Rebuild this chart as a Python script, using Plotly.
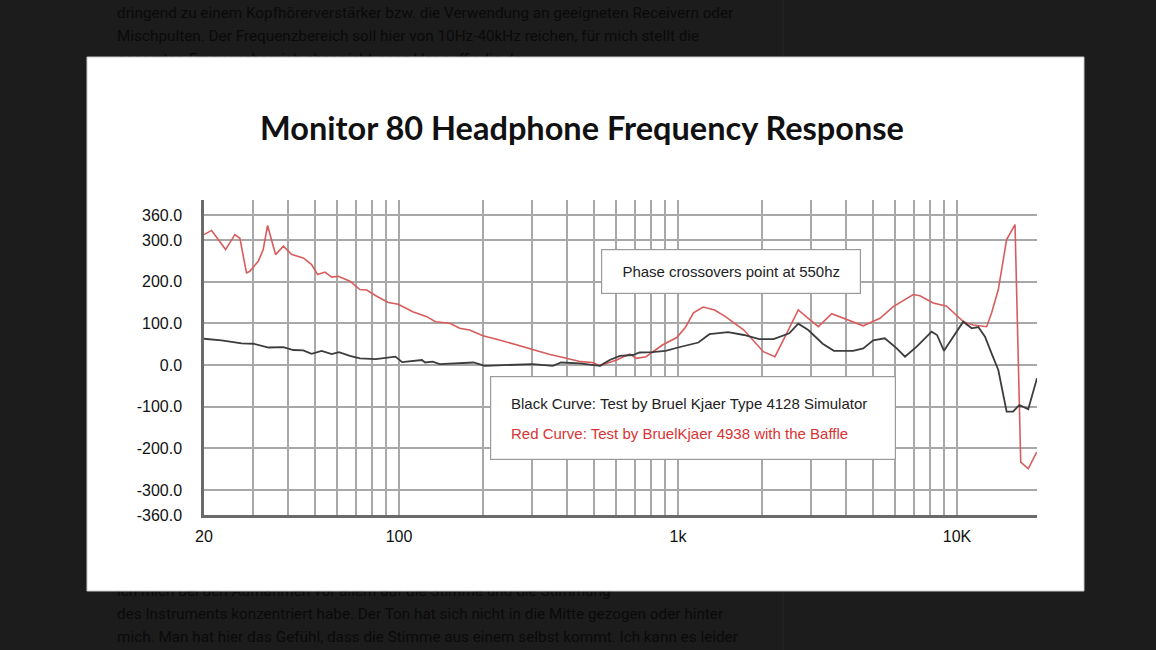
import math
import plotly.graph_objects as go

# ---------------- data ----------------
red_freq = [20, 21.3, 23.9, 25.8, 26.9, 28.4, 29.2, 31.3, 32.6, 33.8, 36.1, 38.5, 41.3, 45.4, 48.6,
            51.1, 54.3, 57.4, 60.6, 66.7, 72.4, 76.6, 83.2, 91.5, 99.4, 112, 125.8, 135, 152, 165,
            179, 200, 229, 263, 301, 345, 398, 449, 494, 525, 556, 603, 637, 672, 709, 768, 879,
            990, 1062, 1136, 1230, 1352, 1466, 1723, 2022, 2226, 2452, 2698, 2930, 3184, 3556,
            4024, 4614, 5296, 5910, 6970, 7360, 8220, 9180, 10530, 11430, 12770, 13300, 14060,
            15060, 16140, 16920, 18000, 19300]
red_phase = [313, 323, 277, 313, 304, 221, 225, 249, 277, 335, 265, 285, 265, 257, 241,
             217, 223, 211, 213, 201, 181, 180, 165, 150, 146, 128, 116, 104, 100, 88,
             84, 70, 60, 48, 36, 26, 16, 8, 6, -2, 4, 12, 20, 26, 16, 20, 48,
             66, 90, 125, 139, 132, 118, 84, 32, 20, 76, 132, 112, 92, 123,
             110, 94, 112, 140, 169, 166, 149, 141, 104, 96, 92, 125, 181,
             301, 337, -233, -249, -209]

black_freq = [20, 23.1, 27.3, 30.1, 34.1, 38.5, 41.8, 45.4, 48.6, 52.8, 57.4, 60.9, 66.7, 72.4,
              82.6, 91.5, 97.1, 102.6, 114, 120.8, 124, 132, 140, 185, 203, 301, 356, 381, 445,
              525, 569, 619, 689, 728, 809, 903, 1000, 1183, 1296, 1512, 1723, 1954, 2200, 2505,
              2698, 2930, 3300, 3620, 4240, 4614, 5007, 5510, 6080, 6510, 7170, 8110, 8480, 8980,
              10530, 11290, 11920, 12600, 13300, 14060, 15060, 15880, 16720, 18000, 19350]
black_phase = [63, 59, 52, 51, 42, 43, 36, 35, 27, 34, 26, 31, 22, 16,
               14, 18, 20, 7, 10, 12, 6, 8, 2, 6, -2, 2, -2, 6, 4,
               -2, 12, 22, 24, 30, 31, 34, 42, 54, 74, 79, 72, 62, 62, 76,
               99, 84, 51, 34, 34, 40, 59, 64, 40, 20, 44, 80, 72, 34,
               104, 88, 91, 68, 28, -12, -112, -112, -96, -106, -32]

y_ticks = [360, 300, 200, 100, 0, -100, -200, -300, -360]
y_labels = ["360.0", "300.0", "200.0", "100.0", "0.0", "-100.0", "-200.0", "-300.0", "-360.0"]
x_ticks = [20, 100, 1000, 10000]
x_labels = ["20", "100", "1k", "10K"]
x_minor = [30, 40, 50, 60, 70, 80, 90, 200, 300, 400, 500, 600, 700, 800, 900,
           2000, 3000, 4000, 5000, 6000, 7000, 8000, 9000]

title_text = "Monitor 80 Headphone Frequency Response"
note_text = "Phase crossovers point at 550hz"
legend_black = "Black Curve: Test by Bruel Kjaer Type 4128 Simulator"
legend_red = "Red Curve: Test by BruelKjaer 4938 with the Baffle"

bg_lines_top = [
    "dringend zu einem Kopfhörerverstärker bzw. die Verwendung an geeigneten Receivern oder",
    "Mischpulten. Der Frequenzbereich soll hier von 10Hz-40kHz reichen, für mich stellt die",
    "gesamten Frequenzbereich aber nicht ganz klar auffindig da.",
]
bg_lines_bottom = [
    "ich mich bei den Aufnahmen vor allem auf die Stimme und die Stimmung",
    "des Instruments konzentriert habe. Der Ton hat sich nicht in die Mitte gezogen oder hinter",
    "mich. Man hat hier das Gefühl, dass die Stimme aus einem selbst kommt. Ich kann es leider",
]

# ---------------- layout geometry (pixels) ----------------
W, H = 1156, 650
L, R, T, B = 204, 1037, 200, 515
BG_TEXT = "#0a0a0a"


def px(x):
    return (x - L) / (R - L)


def py(y):
    return (B - y) / (B - T)


fig = go.Figure()
fig.add_trace(go.Scatter(x=red_freq, y=red_phase, mode="lines",
                         line=dict(color="#d95c5c", width=1.6), showlegend=False))
fig.add_trace(go.Scatter(x=black_freq, y=black_phase, mode="lines",
                         line=dict(color="#3c3c3c", width=1.8), showlegend=False))

shapes = []
# background page text (drawn first, later covered by the white panel)
for i, t in enumerate(bg_lines_top):
    yc = 12 + 23 * i
    shapes.append(dict(type="rect", xref="paper", yref="paper", layer="below",
                       x0=px(114), x1=px(900), y0=py(yc + 10), y1=py(yc - 10),
                       line=dict(width=0), fillcolor="rgba(0,0,0,0)",
                       label=dict(text=t, textposition="middle left", padding=0,
                                  font=dict(family="Roboto", size=15.3, color=BG_TEXT))))
for i, t in enumerate(bg_lines_bottom):
    yc = 590 + 23 * i
    shapes.append(dict(type="rect", xref="paper", yref="paper", layer="below",
                       x0=px(114), x1=px(900), y0=py(yc + 10), y1=py(yc - 10),
                       line=dict(width=0), fillcolor="rgba(0,0,0,0)",
                       label=dict(text=t, textposition="middle left", padding=0,
                                  font=dict(family="Roboto", size=15.3, color=BG_TEXT))))
# column divider
shapes.append(dict(type="line", xref="paper", yref="paper", layer="below",
                   x0=px(783), x1=px(783), y0=py(0), y1=py(H),
                   line=dict(color="#242424", width=1)))
# white panel
shapes.append(dict(type="rect", xref="paper", yref="paper", layer="below",
                   x0=px(87), x1=px(1084), y0=py(591), y1=py(57),
                   line=dict(color="#c8c8c8", width=1), fillcolor="white"))

annotations = [
    dict(xref="paper", yref="paper", x=px(731), y=py(271.5), text=note_text,
         showarrow=False, xanchor="center", yanchor="middle",
         width=256, height=41, borderpad=1, borderwidth=1.2, bordercolor="#9a9a9a",
         bgcolor="white", font=dict(family="Liberation Sans", size=15, color="#222")),
    dict(xref="paper", yref="paper", x=px(693), y=py(418), text="",
         showarrow=False, xanchor="center", yanchor="middle",
         width=402, height=80, borderpad=1, borderwidth=1.2, bordercolor="#9a9a9a",
         bgcolor="white"),
    dict(xref="paper", yref="paper", x=px(509), y=py(403.5), text=legend_black,
         showarrow=False, xanchor="left", yanchor="middle",
         font=dict(family="Liberation Sans", size=15, color="#222")),
    dict(xref="paper", yref="paper", x=px(509), y=py(433.5), text=legend_red,
         showarrow=False, xanchor="left", yanchor="middle",
         font=dict(family="Liberation Sans", size=15, color="#d93333")),
]

xr0 = math.log10(20)
xr1 = xr0 + (R - L) / 279.0

fig.update_layout(
    width=W, height=H,
    margin=dict(l=L, r=W - R, t=T, b=H - B, pad=0),
    paper_bgcolor="#1c1c1c", plot_bgcolor="white",
    font=dict(color=BG_TEXT),
    showlegend=False,
    shapes=shapes, annotations=annotations,
    title=dict(text=title_text, xref="paper", x=px(582), xanchor="center",
               yref="container", y=1 - 129 / H, yanchor="middle",
               font=dict(family="Lato", size=32.5, weight="bold", color="#111")),
    xaxis=dict(type="log", range=[xr0, xr1], tickvals=x_ticks, ticktext=x_labels,
               showgrid=True, gridcolor="#a8a8a8", gridwidth=1.5,
               minor=dict(tickvals=x_minor, showgrid=True, gridcolor="#a8a8a8",
                          gridwidth=1.5, ticks=""),
               showline=True, linecolor="#6a6a6a", linewidth=2.5,
               ticks="", ticklabelstandoff=5, zeroline=False,
               tickfont=dict(family="Liberation Sans", size=16, color="#111")),
    yaxis=dict(range=[-360, 396], tickvals=y_ticks, ticktext=y_labels,
               showgrid=True, gridcolor="#a8a8a8", gridwidth=1.5,
               showline=True, linecolor="#6a6a6a", linewidth=2.5,
               ticks="", ticklabelstandoff=16, zeroline=False,
               tickfont=dict(family="Liberation Sans", size=16, color="#111")),
)

fig.write_html("out.html")
